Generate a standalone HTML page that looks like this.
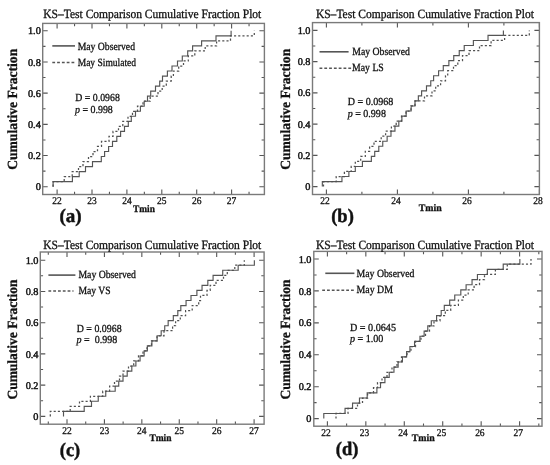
<!DOCTYPE html>
<html><head><meta charset="utf-8"><title>KS-Test Comparison Cumulative Fraction Plots</title>
<style>html,body{margin:0;padding:0;background:#fff;}svg{display:block;}text{text-rendering:geometricPrecision;}</style></head>
<body><svg width="550" height="465" viewBox="0 0 550 465" font-family='"Liberation Serif", "Times New Roman", serif'>
<rect width="550" height="465" fill="#fff"/>
<path d="M53.1,186.7V181.67H72.4V176.64H79.2V171.61H85.5V166.58H92.5V161.55H101.3V156.53H104.6V151.5H108.6V146.47H112.5V141.44H116.8V136.41H120.6V131.38H124.5V126.35H128.3V121.32H131.3V116.29H135.5V111.26H140.4V106.24H144.2V101.21H147.5V96.18H150.7V91.15H155.5V86.12H159.7V81.09H162.5V76.06H167.4V71.03H172V66H177.5V60.97H182.3V55.95H187.7V50.92H192.6V45.89H201.6V40.86H216V35.83H231.1V30.8" fill="none" stroke="#555" stroke-width="1.15"/>
<path d="M53.1,186.7V181.67H64.2V176.64H72.2V171.61H78.5V166.58H83V161.55H88.5V156.53H93V151.5H97.5V146.47H101.5V141.44H109V136.41H113V131.38H118.5V126.35H122.8V121.32H128V116.29H132.5V111.26H137.5V106.24H143V101.21H150.2V96.18H158V91.15H162.2V86.12H166.3V81.09H171.2V76.06H173.4V71.03H178.7V66H183.5V60.97H188.3V55.95H194.8V50.92H205.2V45.89H216.6V40.86H230.5V35.83H254.3V30.8" fill="none" stroke="#505050" stroke-width="1.25" stroke-dasharray="2.1,2.1"/>
<path d="M57.1,194.5v-5M57.1,23.4v5M92,194.5v-5M92,23.4v5M126.9,194.5v-5M126.9,23.4v5M161.8,194.5v-5M161.8,23.4v5M196.7,194.5v-5M196.7,23.4v5M231.6,194.5v-5M231.6,23.4v5M74.55,194.5v-2.8M74.55,23.4v2.8M109.45,194.5v-2.8M109.45,23.4v2.8M144.35,194.5v-2.8M144.35,23.4v2.8M179.25,194.5v-2.8M179.25,23.4v2.8M214.15,194.5v-2.8M214.15,23.4v2.8M249.05,194.5v-2.8M249.05,23.4v2.8M42.7,186.7h5M264.4,186.7h-5M42.7,171.11h2.8M264.4,171.11h-2.8M42.7,155.52h5M264.4,155.52h-5M42.7,139.93h2.8M264.4,139.93h-2.8M42.7,124.34h5M264.4,124.34h-5M42.7,108.75h2.8M264.4,108.75h-2.8M42.7,93.16h5M264.4,93.16h-5M42.7,77.57h2.8M264.4,77.57h-2.8M42.7,61.98h5M264.4,61.98h-5M42.7,46.39h2.8M264.4,46.39h-2.8M42.7,30.8h5M264.4,30.8h-5" stroke="#555" stroke-width="1.1" fill="none"/>
<rect x="42.7" y="23.4" width="221.7" height="171.1" fill="none" stroke="#7a7a7a" stroke-width="1.4"/>
<text transform="translate(40.8,190.3)" font-size="10.3" text-anchor="end" fill="#111" stroke="#111" stroke-width="0.45">0</text>
<text transform="translate(40.8,159.12)" font-size="10.3" text-anchor="end" fill="#111" stroke="#111" stroke-width="0.45">0.2</text>
<text transform="translate(40.8,127.94)" font-size="10.3" text-anchor="end" fill="#111" stroke="#111" stroke-width="0.45">0.4</text>
<text transform="translate(40.8,96.76)" font-size="10.3" text-anchor="end" fill="#111" stroke="#111" stroke-width="0.45">0.6</text>
<text transform="translate(40.8,65.58)" font-size="10.3" text-anchor="end" fill="#111" stroke="#111" stroke-width="0.45">0.8</text>
<text transform="translate(40.8,34.4)" font-size="10.3" text-anchor="end" fill="#111" stroke="#111" stroke-width="0.45">1.0</text>
<text transform="translate(57.1,204) scale(0.92,1)" font-size="10.3" text-anchor="middle" fill="#111" stroke="#111" stroke-width="0.3">22</text>
<text transform="translate(92,204) scale(0.92,1)" font-size="10.3" text-anchor="middle" fill="#111" stroke="#111" stroke-width="0.3">23</text>
<text transform="translate(126.9,204) scale(0.92,1)" font-size="10.3" text-anchor="middle" fill="#111" stroke="#111" stroke-width="0.3">24</text>
<text transform="translate(161.8,204) scale(0.92,1)" font-size="10.3" text-anchor="middle" fill="#111" stroke="#111" stroke-width="0.3">25</text>
<text transform="translate(196.7,204) scale(0.92,1)" font-size="10.3" text-anchor="middle" fill="#111" stroke="#111" stroke-width="0.3">26</text>
<text transform="translate(231.6,204) scale(0.92,1)" font-size="10.3" text-anchor="middle" fill="#111" stroke="#111" stroke-width="0.3">27</text>
<text transform="translate(43.3,17.9)" font-size="12.6" textLength="218" lengthAdjust="spacingAndGlyphs" fill="#111" stroke="#111" stroke-width="0.3">KS–Test Comparison Cumulative Fraction Plot</text>
<text transform="translate(17.1,109.3) rotate(-90)" font-size="14" font-weight="bold" text-anchor="middle" textLength="121" lengthAdjust="spacingAndGlyphs" fill="#111" stroke="#111" stroke-width="0.3">Cumulative Fraction</text>
<text transform="translate(133.1,212.1)" font-size="10" font-weight="bold" textLength="21.8" lengthAdjust="spacingAndGlyphs" fill="#111" stroke="#111" stroke-width="0.3">Tmin</text>
<text transform="translate(59.5,221.8)" font-size="19" font-weight="bold" textLength="22.2" lengthAdjust="spacingAndGlyphs" fill="#111" stroke="#111" stroke-width="0.45">(a)</text>
<path d="M52.3,45.9H75" stroke="#555" stroke-width="1.6"/>
<path d="M52.3,62.6H75" stroke="#555" stroke-width="1.5" stroke-dasharray="2.8,2"/>
<text transform="translate(77.7,49.9)" font-size="11" textLength="57.3" lengthAdjust="spacingAndGlyphs" fill="#111" stroke="#111" stroke-width="0.3">May Observed</text>
<text transform="translate(77.7,65.9)" font-size="11" textLength="58.3" lengthAdjust="spacingAndGlyphs" fill="#111" stroke="#111" stroke-width="0.3">May Simulated</text>
<text transform="translate(75.3,101.4)" font-size="10.8" textLength="44.5" lengthAdjust="spacingAndGlyphs" fill="#111" stroke="#111" stroke-width="0.3">D = 0.0968</text>
<text transform="translate(75,112.8)" font-size="10.8" textLength="37.8" lengthAdjust="spacingAndGlyphs" fill="#111" stroke="#111" stroke-width="0.3"><tspan font-style="italic">p</tspan> = 0.998</text>
<path d="M322.33,186.6V181.56H341.96V176.52H348.88V171.48H355.29V166.45H362.41V161.41H371.36V156.37H374.72V151.33H378.79V146.29H382.75V141.25H387.13V136.21H390.99V131.17H394.96V126.14H398.82V121.1H401.88V116.06H406.15V111.02H411.13V105.98H415V100.94H418.35V95.9H421.61V90.86H426.49V85.83H430.76V80.79H433.61V75.75H438.6V70.71H443.28V65.67H448.87V60.63H453.75V55.59H459.25V50.55H464.23V45.52H473.38V40.48H488.03V35.44H503.39V30.4" fill="none" stroke="#555" stroke-width="1.15"/>
<path d="M323.5,186.6V181.56H336.2V176.52H344.4V171.48H351.2V166.45H355.3V161.41H360.7V156.37H365.3V151.33H369.6V146.29H374V141.25H381.2V136.21H385.6V131.17H391.4V126.14H396.2V121.1H401.5V116.06H406V111.02H411V105.98H415V100.94H424.5V95.9H432V90.86H435.7V85.83H440.6V80.79H445.5V75.75H447.7V70.71H453.5V65.67H457.8V60.63H462.5V55.59H469V50.55H479.5V45.52H491.1V40.48H504.6V35.44H529.3V30.4" fill="none" stroke="#505050" stroke-width="1.25" stroke-dasharray="2.1,2.1"/>
<path d="M326.4,194.5v-5M326.4,22.6v5M397.4,194.5v-5M397.4,22.6v5M468.4,194.5v-5M468.4,22.6v5M539.4,194.5v-5M539.4,22.6v5M361.9,194.5v-2.8M361.9,22.6v2.8M432.9,194.5v-2.8M432.9,22.6v2.8M503.9,194.5v-2.8M503.9,22.6v2.8M312.5,186.6h5M539.4,186.6h-5M312.5,170.98h2.8M539.4,170.98h-2.8M312.5,155.36h5M539.4,155.36h-5M312.5,139.74h2.8M539.4,139.74h-2.8M312.5,124.12h5M539.4,124.12h-5M312.5,108.5h2.8M539.4,108.5h-2.8M312.5,92.88h5M539.4,92.88h-5M312.5,77.26h2.8M539.4,77.26h-2.8M312.5,61.64h5M539.4,61.64h-5M312.5,46.02h2.8M539.4,46.02h-2.8M312.5,30.4h5M539.4,30.4h-5" stroke="#555" stroke-width="1.1" fill="none"/>
<rect x="312.5" y="22.6" width="226.9" height="171.9" fill="none" stroke="#7a7a7a" stroke-width="1.4"/>
<text transform="translate(310.5,190.2)" font-size="10.3" text-anchor="end" fill="#111" stroke="#111" stroke-width="0.45">0</text>
<text transform="translate(310.5,158.96)" font-size="10.3" text-anchor="end" fill="#111" stroke="#111" stroke-width="0.45">0.2</text>
<text transform="translate(310.5,127.72)" font-size="10.3" text-anchor="end" fill="#111" stroke="#111" stroke-width="0.45">0.4</text>
<text transform="translate(310.5,96.48)" font-size="10.3" text-anchor="end" fill="#111" stroke="#111" stroke-width="0.45">0.6</text>
<text transform="translate(310.5,65.24)" font-size="10.3" text-anchor="end" fill="#111" stroke="#111" stroke-width="0.45">0.8</text>
<text transform="translate(310.5,34)" font-size="10.3" text-anchor="end" fill="#111" stroke="#111" stroke-width="0.45">1.0</text>
<text transform="translate(325.1,204) scale(0.92,1)" font-size="10.3" text-anchor="middle" fill="#111" stroke="#111" stroke-width="0.3">22</text>
<text transform="translate(396.1,204) scale(0.92,1)" font-size="10.3" text-anchor="middle" fill="#111" stroke="#111" stroke-width="0.3">24</text>
<text transform="translate(467.1,204) scale(0.92,1)" font-size="10.3" text-anchor="middle" fill="#111" stroke="#111" stroke-width="0.3">26</text>
<text transform="translate(538.1,204) scale(0.92,1)" font-size="10.3" text-anchor="middle" fill="#111" stroke="#111" stroke-width="0.3">28</text>
<text transform="translate(315.9,17.6)" font-size="12.6" textLength="218" lengthAdjust="spacingAndGlyphs" fill="#111" stroke="#111" stroke-width="0.3">KS–Test Comparison Cumulative Fraction Plot</text>
<text transform="translate(290.2,109.3) rotate(-90)" font-size="14" font-weight="bold" text-anchor="middle" textLength="121" lengthAdjust="spacingAndGlyphs" fill="#111" stroke="#111" stroke-width="0.3">Cumulative Fraction</text>
<text transform="translate(418.8,211.2)" font-size="10" font-weight="bold" textLength="22.9" lengthAdjust="spacingAndGlyphs" fill="#111" stroke="#111" stroke-width="0.3">Tmin</text>
<text transform="translate(331.2,222.3)" font-size="19" font-weight="bold" textLength="22.6" lengthAdjust="spacingAndGlyphs" fill="#111" stroke="#111" stroke-width="0.45">(b)</text>
<path d="M319.5,51.8H348.6" stroke="#555" stroke-width="1.6"/>
<path d="M319.5,68.2H351.3" stroke="#555" stroke-width="1.5" stroke-dasharray="2.8,2"/>
<text transform="translate(352.3,55)" font-size="11" textLength="57.6" lengthAdjust="spacingAndGlyphs" fill="#111" stroke="#111" stroke-width="0.3">May Observed</text>
<text transform="translate(352,71.4)" font-size="11" textLength="31.8" lengthAdjust="spacingAndGlyphs" fill="#111" stroke="#111" stroke-width="0.3">May LS</text>
<text transform="translate(347.7,105.4)" font-size="10.8" textLength="45.6" lengthAdjust="spacingAndGlyphs" fill="#111" stroke="#111" stroke-width="0.3">D = 0.0968</text>
<text transform="translate(347.7,116.6)" font-size="10.8" textLength="38.2" lengthAdjust="spacingAndGlyphs" fill="#111" stroke="#111" stroke-width="0.3"><tspan font-style="italic">p</tspan> = 0.998</text>
<path d="M63.51,416.4V411.36H84.2V406.32H91.5V401.28H98.25V396.25H105.76V391.21H115.19V386.17H118.73V381.13H123.02V376.09H127.2V371.05H131.81V366.01H135.89V360.97H140.07V355.94H144.14V350.9H147.36V345.86H151.86V340.82H157.11V335.78H161.19V330.74H164.73V325.7H168.16V320.66H173.31V315.63H177.81V310.59H180.81V305.55H186.06V300.51H191V295.47H196.89V290.43H202.04V285.39H207.83V280.35H213.08V275.32H222.73V270.28H238.17V265.24H254.36V260.2" fill="none" stroke="#555" stroke-width="1.15"/>
<path d="M50.3,416.4V411.36H70.2V406.32H79.5V401.28H90.4V396.25H102.7V391.21H109.6V386.17H114.5V381.13H119.5V376.09H123V371.05H128.5V366.01H133.7V360.97H138.5V355.94H143V350.9H147V345.86H151.5V340.82H157V335.78H164V330.74H172.6V325.7H175.6V320.66H180.3V315.63H185.6V310.59H192.2V305.55H198.7V300.51H200.5V295.47H207V290.43H210.2V285.39H216V280.35H223.5V275.32H227.3V270.28H234.8V265.24H244.3V260.2" fill="none" stroke="#505050" stroke-width="1.25" stroke-dasharray="2.1,2.1"/>
<path d="M67,424.2v-5M67,252v5M104.42,424.2v-5M104.42,252v5M141.84,424.2v-5M141.84,252v5M179.26,424.2v-5M179.26,252v5M216.68,424.2v-5M216.68,252v5M254.1,424.2v-5M254.1,252v5M48.29,424.2v-2.8M48.29,252v2.8M85.71,424.2v-2.8M85.71,252v2.8M123.13,424.2v-2.8M123.13,252v2.8M160.55,424.2v-2.8M160.55,252v2.8M197.97,424.2v-2.8M197.97,252v2.8M235.39,424.2v-2.8M235.39,252v2.8M40.3,416.4h5M264.1,416.4h-5M40.3,400.78h2.8M264.1,400.78h-2.8M40.3,385.16h5M264.1,385.16h-5M40.3,369.54h2.8M264.1,369.54h-2.8M40.3,353.92h5M264.1,353.92h-5M40.3,338.3h2.8M264.1,338.3h-2.8M40.3,322.68h5M264.1,322.68h-5M40.3,307.06h2.8M264.1,307.06h-2.8M40.3,291.44h5M264.1,291.44h-5M40.3,275.82h2.8M264.1,275.82h-2.8M40.3,260.2h5M264.1,260.2h-5" stroke="#555" stroke-width="1.1" fill="none"/>
<rect x="40.3" y="252" width="223.8" height="172.2" fill="none" stroke="#7a7a7a" stroke-width="1.4"/>
<text transform="translate(38.5,420)" font-size="10.3" text-anchor="end" fill="#111" stroke="#111" stroke-width="0.45">0</text>
<text transform="translate(38.5,388.76)" font-size="10.3" text-anchor="end" fill="#111" stroke="#111" stroke-width="0.45">0.2</text>
<text transform="translate(38.5,357.52)" font-size="10.3" text-anchor="end" fill="#111" stroke="#111" stroke-width="0.45">0.4</text>
<text transform="translate(38.5,326.28)" font-size="10.3" text-anchor="end" fill="#111" stroke="#111" stroke-width="0.45">0.6</text>
<text transform="translate(38.5,295.04)" font-size="10.3" text-anchor="end" fill="#111" stroke="#111" stroke-width="0.45">0.8</text>
<text transform="translate(38.5,263.8)" font-size="10.3" text-anchor="end" fill="#111" stroke="#111" stroke-width="0.45">1.0</text>
<text transform="translate(67,433.5) scale(0.92,1)" font-size="10.3" text-anchor="middle" fill="#111" stroke="#111" stroke-width="0.3">22</text>
<text transform="translate(104.42,433.5) scale(0.92,1)" font-size="10.3" text-anchor="middle" fill="#111" stroke="#111" stroke-width="0.3">23</text>
<text transform="translate(141.84,433.5) scale(0.92,1)" font-size="10.3" text-anchor="middle" fill="#111" stroke="#111" stroke-width="0.3">24</text>
<text transform="translate(179.26,433.5) scale(0.92,1)" font-size="10.3" text-anchor="middle" fill="#111" stroke="#111" stroke-width="0.3">25</text>
<text transform="translate(216.68,433.5) scale(0.92,1)" font-size="10.3" text-anchor="middle" fill="#111" stroke="#111" stroke-width="0.3">26</text>
<text transform="translate(254.1,433.5) scale(0.92,1)" font-size="10.3" text-anchor="middle" fill="#111" stroke="#111" stroke-width="0.3">27</text>
<text transform="translate(43.3,248.5)" font-size="12.6" textLength="218" lengthAdjust="spacingAndGlyphs" fill="#111" stroke="#111" stroke-width="0.3">KS–Test Comparison Cumulative Fraction Plot</text>
<text transform="translate(17.2,339.5) rotate(-90)" font-size="14" font-weight="bold" text-anchor="middle" textLength="120.2" lengthAdjust="spacingAndGlyphs" fill="#111" stroke="#111" stroke-width="0.3">Cumulative Fraction</text>
<text transform="translate(149.4,440.8)" font-size="10" font-weight="bold" textLength="22.1" lengthAdjust="spacingAndGlyphs" fill="#111" stroke="#111" stroke-width="0.3">Tmin</text>
<text transform="translate(59.8,456.4)" font-size="19" font-weight="bold" textLength="20.4" lengthAdjust="spacingAndGlyphs" fill="#111" stroke="#111" stroke-width="0.45">(c)</text>
<path d="M48.4,275.1H75.4" stroke="#555" stroke-width="1.6"/>
<path d="M48.4,291.1H73.5" stroke="#555" stroke-width="1.5" stroke-dasharray="2.8,2"/>
<text transform="translate(78.4,278.2)" font-size="11" textLength="57.6" lengthAdjust="spacingAndGlyphs" fill="#111" stroke="#111" stroke-width="0.3">May Observed</text>
<text transform="translate(78.4,294.4)" font-size="11" textLength="32.3" lengthAdjust="spacingAndGlyphs" fill="#111" stroke="#111" stroke-width="0.3">May VS</text>
<text transform="translate(76.7,332.4)" font-size="10.8" textLength="44.9" lengthAdjust="spacingAndGlyphs" fill="#111" stroke="#111" stroke-width="0.3">D = 0.0968</text>
<text transform="translate(76.5,343.3)" font-size="10.8" textLength="40.7" lengthAdjust="spacingAndGlyphs" fill="#111" stroke="#111" stroke-width="0.3"><tspan font-style="italic">p</tspan> =  0.998</text>
<path d="M323.79,418.6V413.45H345.05V408.3H352.54V403.15H359.48V398.01H367.19V392.86H376.88V387.71H380.52V382.56H384.92V377.41H389.22V372.26H393.96V367.12H398.14V361.97H402.44V356.82H406.62V351.67H409.93V346.52H414.55V341.37H419.95V336.23H424.13V331.08H427.77V325.93H431.29V320.78H436.58V315.63H441.21V310.48H444.29V305.34H449.69V300.19H454.75V295.04H460.81V289.89H466.1V284.74H472.05V279.59H477.44V274.45H487.36V269.3H503.22V264.15H519.85V259" fill="none" stroke="#555" stroke-width="1.15"/>
<path d="M336,418.6V413.45H348V408.3H357.5V403.15H362.5V398.01H367.6V392.86H373.5V387.71H377.5V382.56H382V377.41H387V372.26H392V367.12H397V361.97H401.5V356.82H407V351.67H411V346.52H415.5V341.37H421V336.23H425.5V331.08H429.5V325.93H434V320.78H440V315.63H445.3V310.48H450.7V305.34H458.4V300.19H463.3V295.04H468.2V289.89H474.1V284.74H479.5V279.59H484.5V274.45H495.4V269.3H507.3V264.15H531V259" fill="none" stroke="#505050" stroke-width="1.25" stroke-dasharray="2.1,2.1"/>
<path d="M327.4,426.2v-5M327.4,251.4v5M365.84,426.2v-5M365.84,251.4v5M404.28,426.2v-5M404.28,251.4v5M442.72,426.2v-5M442.72,251.4v5M481.16,426.2v-5M481.16,251.4v5M519.6,426.2v-5M519.6,251.4v5M346.62,426.2v-2.8M346.62,251.4v2.8M385.06,426.2v-2.8M385.06,251.4v2.8M423.5,426.2v-2.8M423.5,251.4v2.8M461.94,426.2v-2.8M461.94,251.4v2.8M500.38,426.2v-2.8M500.38,251.4v2.8M538.82,426.2v-2.8M538.82,251.4v2.8M313.8,418.6h5M542,418.6h-5M313.8,402.64h2.8M542,402.64h-2.8M313.8,386.68h5M542,386.68h-5M313.8,370.72h2.8M542,370.72h-2.8M313.8,354.76h5M542,354.76h-5M313.8,338.8h2.8M542,338.8h-2.8M313.8,322.84h5M542,322.84h-5M313.8,306.88h2.8M542,306.88h-2.8M313.8,290.92h5M542,290.92h-5M313.8,274.96h2.8M542,274.96h-2.8M313.8,259h5M542,259h-5" stroke="#555" stroke-width="1.1" fill="none"/>
<rect x="313.8" y="251.4" width="228.2" height="174.8" fill="none" stroke="#7a7a7a" stroke-width="1.4"/>
<text transform="translate(311.5,422.2)" font-size="10.3" text-anchor="end" fill="#111" stroke="#111" stroke-width="0.45">0</text>
<text transform="translate(311.5,390.28)" font-size="10.3" text-anchor="end" fill="#111" stroke="#111" stroke-width="0.45">0.2</text>
<text transform="translate(311.5,358.36)" font-size="10.3" text-anchor="end" fill="#111" stroke="#111" stroke-width="0.45">0.4</text>
<text transform="translate(311.5,326.44)" font-size="10.3" text-anchor="end" fill="#111" stroke="#111" stroke-width="0.45">0.6</text>
<text transform="translate(311.5,294.52)" font-size="10.3" text-anchor="end" fill="#111" stroke="#111" stroke-width="0.45">0.8</text>
<text transform="translate(311.5,262.6)" font-size="10.3" text-anchor="end" fill="#111" stroke="#111" stroke-width="0.45">1.0</text>
<text transform="translate(326.1,436) scale(0.92,1)" font-size="10.3" text-anchor="middle" fill="#111" stroke="#111" stroke-width="0.3">22</text>
<text transform="translate(364.54,436) scale(0.92,1)" font-size="10.3" text-anchor="middle" fill="#111" stroke="#111" stroke-width="0.3">23</text>
<text transform="translate(402.98,436) scale(0.92,1)" font-size="10.3" text-anchor="middle" fill="#111" stroke="#111" stroke-width="0.3">24</text>
<text transform="translate(441.42,436) scale(0.92,1)" font-size="10.3" text-anchor="middle" fill="#111" stroke="#111" stroke-width="0.3">25</text>
<text transform="translate(479.86,436) scale(0.92,1)" font-size="10.3" text-anchor="middle" fill="#111" stroke="#111" stroke-width="0.3">26</text>
<text transform="translate(518.3,436) scale(0.92,1)" font-size="10.3" text-anchor="middle" fill="#111" stroke="#111" stroke-width="0.3">27</text>
<text transform="translate(316,248.5)" font-size="12.6" textLength="218" lengthAdjust="spacingAndGlyphs" fill="#111" stroke="#111" stroke-width="0.3">KS–Test Comparison Cumulative Fraction Plot</text>
<text transform="translate(290.4,339.5) rotate(-90)" font-size="14" font-weight="bold" text-anchor="middle" textLength="120.2" lengthAdjust="spacingAndGlyphs" fill="#111" stroke="#111" stroke-width="0.3">Cumulative Fraction</text>
<text transform="translate(411.8,441.3)" font-size="10" font-weight="bold" textLength="22.9" lengthAdjust="spacingAndGlyphs" fill="#111" stroke="#111" stroke-width="0.3">Tmin</text>
<text transform="translate(335.8,455.2)" font-size="19" font-weight="bold" textLength="22.6" lengthAdjust="spacingAndGlyphs" fill="#111" stroke="#111" stroke-width="0.45">(d)</text>
<path d="M325.3,273.3H354.4" stroke="#555" stroke-width="1.6"/>
<path d="M322.2,290.2H355.5" stroke="#555" stroke-width="1.5" stroke-dasharray="2.8,2"/>
<text transform="translate(356.5,276.7)" font-size="11" textLength="57.9" lengthAdjust="spacingAndGlyphs" fill="#111" stroke="#111" stroke-width="0.3">May Observed</text>
<text transform="translate(356.5,293)" font-size="11" textLength="36.4" lengthAdjust="spacingAndGlyphs" fill="#111" stroke="#111" stroke-width="0.3">May DM</text>
<text transform="translate(349.9,330.5)" font-size="10.8" textLength="46.1" lengthAdjust="spacingAndGlyphs" fill="#111" stroke="#111" stroke-width="0.3">D = 0.0645</text>
<text transform="translate(349.9,341.7)" font-size="10.8" textLength="33.4" lengthAdjust="spacingAndGlyphs" fill="#111" stroke="#111" stroke-width="0.3"><tspan font-style="italic">p</tspan> = 1.00</text>
</svg></body></html>
